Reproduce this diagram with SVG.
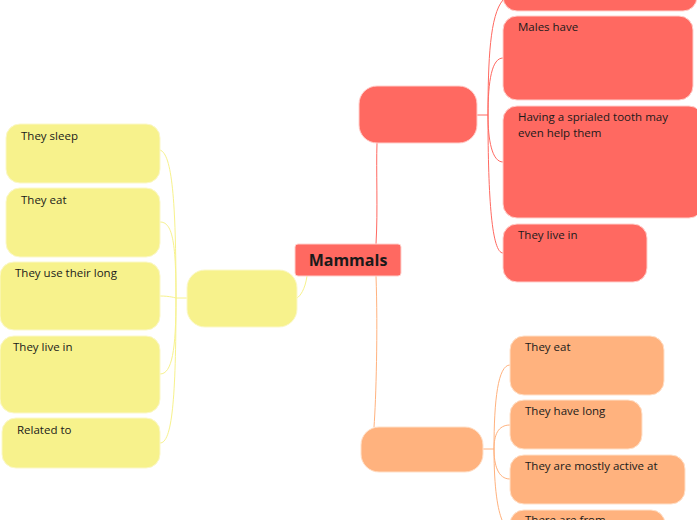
<svg xmlns="http://www.w3.org/2000/svg" width="697" height="520" viewBox="0 0 697 520">
<style>
text{font-family:"Open Sans","Noto Sans",sans-serif;font-size:11.5px;fill:#1a1a1a}
.r{fill:#FF6961;stroke:#ffd0cc;stroke-width:1}
.o{fill:#FFB27E;stroke:#ffe0c8;stroke-width:1}
.y{fill:#F7F28C;stroke:#fbf8c8;stroke-width:1}
.cr{fill:none;stroke:#FF6961;stroke-width:1}
.co{fill:none;stroke:#FFB27E;stroke-width:1}
.cy{fill:none;stroke:#F7F28C;stroke-width:1}
</style>
<rect width="697" height="520" fill="#fff"/>
<g id="connectors">
<path class="cr" d="M376,244 C378,210 376,170 377,143" stroke-width="1.5"/>
<path class="co" d="M376,276 C378,330 376,400 374,427" stroke-width="1.5"/>
<path class="cy" d="M307,276 C305,290 300,296 297,298" stroke-width="1.5"/>
<path class="cr" d="M477,115 L488,115"/>
<path class="cr" d="M488,115 C488,60 490,15 503,0"/>
<path class="cr" d="M488,115 C488,80 492,58 503,58"/>
<path class="cr" d="M488,115 C488,140 492,162 503,162"/>
<path class="cr" d="M488,115 C488,200 492,253 503,253"/>
<path class="co" d="M483,449 L494,449"/>
<path class="co" d="M494,449 C494,400 498,365 510,365"/>
<path class="co" d="M494,449 C494,435 498,425 510,425"/>
<path class="co" d="M494,449 C494,465 498,479 510,479"/>
<path class="co" d="M494,449 C494,490 498,510 502,520"/>
<path class="cy" d="M187,298 L176,298"/>
<path class="cy" d="M176,298 C176,200 172,154 160,150"/>
<path class="cy" d="M176,298 C176,240 172,222 160,222"/>
<path class="cy" d="M176,298 C176,298 170,296 160,296"/>
<path class="cy" d="M176,298 C176,350 172,374 160,374"/>
<path class="cy" d="M176,298 C176,400 172,443 160,443"/>
</g>
<g id="mammals"><rect x="295" y="244" width="106" height="32" rx="3" class="r"/><text x="348" y="266" text-anchor="middle" style="font-size:16px;font-weight:bold">Mammals</text></g>
<g id="red-branch"><rect x="359" y="86" width="118" height="57" rx="18" class="r"/></g>
<g id="red-1"><rect x="503" y="-20" width="194" height="31" rx="14" class="r"/></g>
<g id="red-2"><rect x="503" y="16" width="190" height="84" rx="14" class="r"/><text x="518" y="31">Males have</text></g>
<g id="red-3"><rect x="503" y="106" width="200" height="112" rx="14" class="r"/><text x="518" y="121">Having a sprialed tooth may</text><text x="518" y="137">even help them</text></g>
<g id="red-4"><rect x="503" y="224" width="144" height="58" rx="14" class="r"/><text x="518" y="239">They live in</text></g>
<g id="orange-branch"><rect x="361" y="427" width="122" height="45" rx="18" class="o"/></g>
<g id="orange-1"><rect x="510" y="336" width="154" height="59" rx="14" class="o"/><text x="525" y="351">They eat</text></g>
<g id="orange-2"><rect x="510" y="400" width="132" height="49" rx="14" class="o"/><text x="525" y="415">They have long</text></g>
<g id="orange-3"><rect x="510" y="455" width="175" height="49" rx="14" class="o"/><text x="525" y="470">They are mostly active at</text></g>
<g id="orange-4"><rect x="510" y="510" width="155" height="40" rx="14" class="o"/><text x="525" y="524">There are from</text></g>
<g id="yellow-branch"><rect x="187" y="270" width="110" height="57" rx="18" class="y"/></g>
<g id="yellow-1"><rect x="6" y="124" width="154" height="59" rx="14" class="y"/><text x="21" y="140">They sleep</text></g>
<g id="yellow-2"><rect x="6" y="188" width="154" height="69" rx="14" class="y"/><text x="21" y="204">They eat</text></g>
<g id="yellow-3"><rect x="0" y="262" width="160" height="68" rx="14" class="y"/><text x="15" y="277">They use their long</text></g>
<g id="yellow-4"><rect x="0" y="336" width="160" height="77" rx="14" class="y"/><text x="13" y="351">They live in</text></g>
<g id="yellow-5"><rect x="2" y="418" width="158" height="50" rx="14" class="y"/><text x="17" y="434">Related to</text></g>
</svg>
